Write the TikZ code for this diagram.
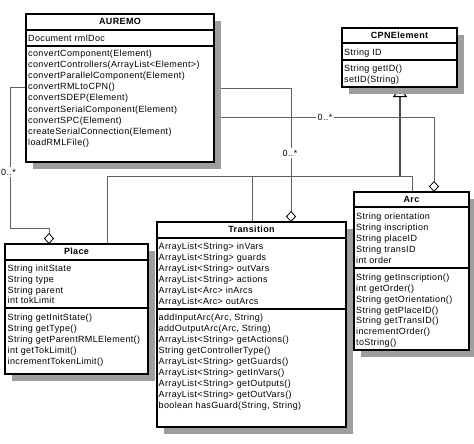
\documentclass[tikz,border=0pt]{standalone}
\usepackage{fontspec}
\setmainfont{Liberation Sans}[LetterSpace=4.0]
\usetikzlibrary{arrows.meta,shadows,fit}
\newcommand\umlstrut{\rule{0pt}{8pt}}
\begin{document}
\begin{tikzpicture}[x=1pt,y=-1pt,
  every node/.style={font=\fontsize{9}{11}\selectfont},
  cls/.style={draw=black, line width=1.4pt, fill=white, inner sep=0pt,
     drop shadow={shadow xshift=7pt, shadow yshift=-7pt, fill=black!38, opacity=1}},
  ttl/.style={font=\fontsize{9}{11}\selectfont\bfseries, inner sep=0pt, anchor=center},
  txt/.style={align=left, anchor=north west, inner sep=0pt, font=\fontsize{9}{#1}\selectfont},
  txt/.default=11,
  dv/.style={line width=1.4pt},
  conn/.style={draw=black!62, line width=0.9pt},
  agg/.style={conn, -{Diamond[open, length=11pt, width=10pt, color=black, line width=0.8pt]}},
  lbl/.style={fill=white, inner sep=1.5pt}
]
\useasboundingbox (0,0) rectangle (474,444);

% ---------- connectors (drawn first) ----------
\coordinate (j) at (400,176);
% generalization tree
\draw[conn] (107,0 |- 0,244) |- (412,176) -- (412,192);
\draw[conn] (252,176) -- (252,222);
\draw[conn, line width=1.3pt, draw=black!70,
  -{Triangle[open, length=10pt, width=14pt, color=black, line width=1pt]}] (j) -- (400,87);

% aggregations
\draw[agg] (26,87) -| (10,228) -| (49,244);
\draw[agg] (214,88) -| (291,222);
\draw[agg] (214,117) -| (434,192);

% ---------- classes ----------
% AUREMO
\node[cls, fit={(26,14) (214,162)}] (auremo) {};
\draw[dv] (auremo.west |- 0,30) -- (auremo.east |- 0,30);
\draw[dv] (auremo.west |- 0,46) -- (auremo.east |- 0,46);
\node[ttl] (auremo-t) at (auremo.north |- 0,21.5) {AUREMO};
\node[txt] (auremo-a) at (28,33) {\umlstrut Document rmlDoc};
\node[txt=11.1] (auremo-m) at (28,48.3) {\umlstrut convertComponent(Element)\\
convertControllers(ArrayList<Element>)\\
convertParallelComponent(Element)\\
convertRMLtoCPN()\\
convertSDEP(Element)\\
convertSerialComponent(Element)\\
convertSPC(Element)\\
createSerialConnection(Element)\\
loadRMLFile()};

% CPNElement
\node[cls, fit={(342,28) (457,87)}] (cpn) {};
\draw[dv] (cpn.west |- 0,43) -- (cpn.east |- 0,43);
\draw[dv] (cpn.west |- 0,60) -- (cpn.east |- 0,60);
\node[ttl] (cpn-t) at (cpn.north |- 0,35.7) {CPNElement};
\node[txt] (cpn-a) at (344,47) {\umlstrut String ID};
\node[txt=11.3] (cpn-m) at (344,63) {\umlstrut String getID()\\ setID(String)};

% Place
\node[cls, fit={(5,244) (148,374)}] (place) {};
\draw[dv] (place.west |- 0,260) -- (place.east |- 0,260);
\draw[dv] (place.west |- 0,308) -- (place.east |- 0,308);
\node[ttl] (place-t) at (place.north |- 0,251.5) {Place};
\node[txt=10.7] (place-a) at (7.5,263.6) {\umlstrut String initState\\ String type\\ String parent\\ int tokLimit};
\node[txt=11] (place-m) at (7.5,312.6) {\umlstrut String getInitState()\\
String getType()\\
String getParentRMLElement()\\
int getTokLimit()\\
incrementTokenLimit()};

% Transition
\node[cls, fit={(157,222) (346,427)}] (transition) {};
\draw[dv] (transition.west |- 0,238) -- (transition.east |- 0,238);
\draw[dv] (transition.west |- 0,309) -- (transition.east |- 0,309);
\node[ttl] (transition-t) at (transition.north |- 0,229.5) {Transition};
\node[txt=11.07] (transition-a) at (158.5,241) {\umlstrut ArrayList<String> inVars\\
ArrayList<String> guards\\
ArrayList<String> outVars\\
ArrayList<String> actions\\
ArrayList<Arc> inArcs\\
ArrayList<Arc> outArcs};
\node[txt=10.97] (transition-m) at (158.5,312.6) {\umlstrut addInputArc(Arc, String)\\
addOutputArc(Arc, String)\\
ArrayList<String> getActions()\\
String getControllerType()\\
ArrayList<String> getGuards()\\
ArrayList<String> getInVars()\\
ArrayList<String> getOutputs()\\
ArrayList<String> getOutVars()\\
boolean hasGuard(String, String)};

% Arc
\node[cls, fit={(354,192) (469,350)}] (arc) {};
\draw[dv] (arc.west |- 0,207) -- (arc.east |- 0,207);
\draw[dv] (arc.west |- 0,268) -- (arc.east |- 0,268);
\node[ttl] (arc-t) at (arc.north |- 0,199.5) {Arc};
\node[txt=11] (arc-a) at (356,211.3) {\umlstrut String orientation\\
String inscription\\
String placeID\\
String transID\\
int order};
\node[txt=10.94] (arc-m) at (356,272) {\umlstrut String getInscription()\\
int getOrder()\\
String getOrientation()\\
String getPlaceID()\\
String getTransID()\\
incrementOrder()\\
toString()};

% multiplicity labels
\node[lbl] (l1) at (8.5,172) {0..*};
\node[lbl] (l2) at (290,153) {0..*};
\node[lbl] (l3) at (325,117) {0..*};
\end{tikzpicture}
\end{document}
